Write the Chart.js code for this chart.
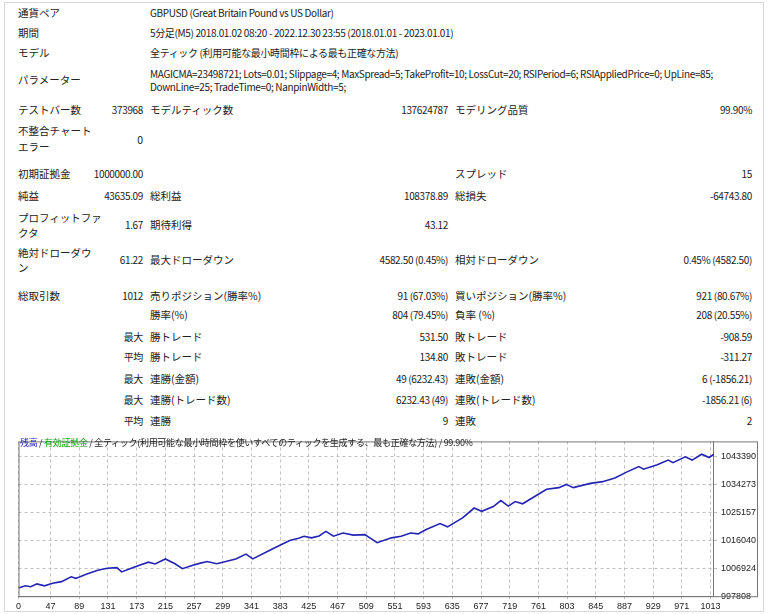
<!DOCTYPE html>
<html>
<head>
<meta charset="utf-8">
<script src="https://cdn.jsdelivr.net/npm/chart.js@4/dist/chart.umd.min.js"></script>
<style>
  body { margin: 0; width: 768px; height: 614px; background: #fff; overflow: hidden;
         font-family: "Noto Sans CJK JP", "Noto Sans", sans-serif; font-size: 10.5px; color: #222; }
  #frame { position: absolute; left: 4px; top: 2px; width: 758px; height: 608px; border: 1px solid #d8d8d8; }
  .t { position: absolute; white-space: nowrap; line-height: 13px; }
  .r { text-align: right; }
  .narrow { font-size: 10px; letter-spacing: -0.35px; }
  #wrap { position: absolute; left: 14px; top: 432px; width: 746px; height: 182px; }
  #legend { position: absolute; left: 20px; top: 436px; font-size: 9px; letter-spacing: -0.3px; color: #222; }
</style>
</head>
<body>
<div id="frame"></div>
<div id="report"></div>
<div id="wrap"><canvas id="equity" width="746" height="182"></canvas></div>
<div id="legend"><span style="color:#2020b0">残高</span> / <span style="color:#10a010">有効証拠金</span> / 全ティック(利用可能な最小時間枠を使いすべてのティックを生成する、最も正確な方法) / 99.90%</div>
<script>
// equity curve points [trade no, balance]
const trades = [0, 10, 18, 27, 38, 50, 63, 77, 84, 100, 116, 130, 144, 151, 165, 176, 190, 200, 215, 229, 240, 254, 265, 276, 290, 305, 318, 333, 343,
  370, 397, 410, 418, 429, 440, 450, 461, 475, 490, 507, 525, 546, 560, 574, 585, 596, 617, 628, 650, 667, 678, 695, 706, 717, 727, 738,
  755, 773, 791, 802, 812, 837, 855, 873, 890, 908, 915, 935, 951, 958, 976, 986, 1000, 1011, 1018];
const balance = [1000446, 1001200, 1000900, 1001817, 1001184, 1002000, 1002556, 1004138, 1003610, 1005000, 1006248, 1006900, 1007092, 1005720, 1006900, 1007830,
  1008885, 1008300, 1009940, 1008358, 1006775, 1007830, 1008500, 1009096, 1008358, 1009200, 1009940, 1011522, 1009940,
  1013000, 1015954, 1016700, 1017326, 1016798, 1017400, 1018910, 1017326, 1018382, 1017700, 1017853, 1015215, 1016798, 1017300, 1018382, 1018100,
  1019437, 1021442, 1020387, 1023300, 1026504, 1025449, 1027000, 1028942, 1027150, 1028627, 1027888,
  1030200, 1032622, 1033150, 1034205, 1033150, 1034527, 1035100, 1036321, 1038200, 1040013, 1039170, 1040600, 1042121, 1041278,
  1043178, 1042121, 1044018, 1042966, 1044018];
const xTicks = [0, 47, 89, 131, 173, 215, 257, 299, 341, 383, 425, 467, 509, 551, 593, 635, 677, 719, 761, 803, 845, 887, 929, 971, 1013];
const yTicks = [997808, 1006924, 1016040, 1025157, 1034273, 1043390];

// report rows: [y, label1, value1, label2, value2, label3, value3]
const rows = [
  [110, "テストバー数", "373968", "モデルティック数", "137624787", "モデリング品質", "99.90%"],
  [174, "初期証拠金", "1000000.00", "", "", "スプレッド", "15"],
  [196, "純益", "43635.09", "総利益", "108378.89", "総損失", "-64743.80"],
  [225, "", "1.67", "期待利得", "43.12", "", ""],
  [260, "", "61.22", "最大ドローダウン", "4582.50 (0.45%)", "相対ドローダウン", "0.45% (4582.50)"],
  [296, "総取引数", "1012", "売りポジション(勝率%)", "91 (67.03%)", "買いポジション(勝率%)", "921 (80.67%)"],
  [315, "", "", "勝率(%)", "804 (79.45%)", "負率 (%)", "208 (20.55%)"],
  [337, "", "最大", "勝トレード", "531.50", "敗トレード", "-908.59"],
  [357, "", "平均", "勝トレード", "134.80", "敗トレード", "-311.27"],
  [379, "", "最大", "連勝(金額)", "49 (6232.43)", "連敗(金額)", "6 (-1856.21)"],
  [400, "", "最大", "連勝(トレード数)", "6232.43 (49)", "連敗(トレード数)", "-1856.21 (6)"],
  [421, "", "平均", "連勝", "9", "連敗", "2"]
];

const report = document.getElementById("report");
function put(x, y, text, right, cls) {
  const el = document.createElement("div");
  el.className = "t" + (right ? " r" : "") + (cls ? " " + cls : "");
  el.textContent = text;
  el.style.top = (y - 7) + "px";
  if (right) { el.style.right = (768 - x) + "px"; } else { el.style.left = x + "px"; }
  report.appendChild(el);
}
put(18, 13, "通貨ペア"); put(150, 13, "GBPUSD (Great Britain Pound vs US Dollar)", false, "narrow");
put(18, 33, "期間"); put(150, 33, "5分足(M5) 2018.01.02 08:20 - 2022.12.30 23:55 (2018.01.01 - 2023.01.01)", false, "narrow");
put(18, 53, "モデル"); put(150, 53, "全ティック (利用可能な最小時間枠による最も正確な方法)", false, "narrow");
put(18, 80, "パラメーター");
put(150, 74, "MAGICMA=23498721; Lots=0.01; Slippage=4; MaxSpread=5; TakeProfit=10; LossCut=20; RSIPeriod=6; RSIAppliedPrice=0; UpLine=85;", false, "narrow");
put(150, 87, "DownLine=25; TradeTime=0; NanpinWidth=5;", false, "narrow");
put(18, 131, "不整合チャート"); put(18, 147, "エラー"); put(143, 140, "0", true);
put(18, 218, "プロフィットファ"); put(18, 233, "クタ");
put(18, 253, "絶対ドローダウ"); put(18, 268, "ン");
rows.forEach(r => {
  if (r[1]) put(18, r[0], r[1]);
  if (r[2]) put(143, r[0], r[2], true, "narrow");
  if (r[3]) put(150, r[0], r[3]);
  if (r[4]) put(448, r[0], r[4], true, "narrow");
  if (r[5]) put(455, r[0], r[5]);
  if (r[6]) put(752, r[0], r[6], true, "narrow");
});

const boxPlugin = {
  id: "box",
  afterDraw(chart) {
    const ctx = chart.ctx;
    const a = chart.chartArea;
    ctx.save();
    ctx.strokeStyle = "#777";
    ctx.lineWidth = 1;
    ctx.strokeRect(a.left + 0.5, a.top + 0.5, chart.width - a.left - 3, a.bottom - a.top);
    ctx.restore();
  }
};

new Chart(document.getElementById("equity"), {
  type: "line",
  data: {
    datasets: [{
      data: trades.map((t, i) => ({ x: t, y: balance[i] })),
      borderColor: "#2323b4",
      borderWidth: 1.6,
      pointRadius: 0,
      tension: 0
    }]
  },
  options: {
    responsive: false,
    animation: false,
    layout: { padding: { left: 3, top: 2, right: 0, bottom: 0 } },
    plugins: { legend: { display: false }, tooltip: { enabled: false } },
    scales: {
      x: {
        type: "linear", min: 0, max: 1018,
        afterBuildTicks: s => { s.ticks = xTicks.map(v => ({ value: v })); },
        ticks: { font: { size: 9 }, color: "#222", maxRotation: 0, autoSkip: false, padding: 2, callback: v => String(v) },
        grid: { color: "#c0c0c0", tickLength: 3 },
        border: { display: true, color: "#777", dash: [3, 3] }
      },
      y: {
        position: "right", min: 997808, max: 1048200,
        afterBuildTicks: s => { s.ticks = yTicks.map(v => ({ value: v })); },
        ticks: { font: { size: 9 }, color: "#222", padding: 4, callback: v => String(v) },
        grid: { color: "#c0c0c0", tickLength: 3 },
        border: { display: true, color: "#777", dash: [3, 3] }
      }
    }
  },
  plugins: [boxPlugin]
});
</script>
</body>
</html>
